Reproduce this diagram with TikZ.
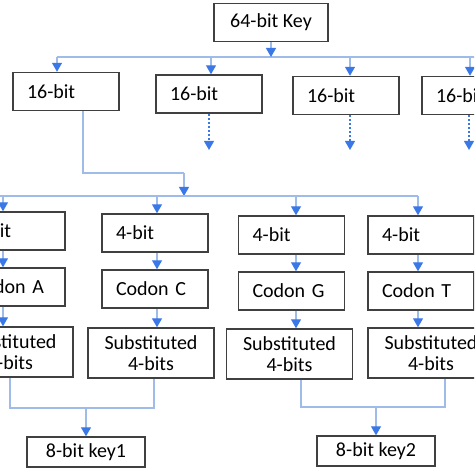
\documentclass[tikz,border=0pt]{standalone}
\usepackage{fontspec}
\setmainfont{Carlito}
\usetikzlibrary{arrows.meta}
\definecolor{linkblue}{RGB}{158,187,234}
\definecolor{tipblue}{RGB}{59,120,231}
\definecolor{boxgray}{RGB}{64,64,64}
\tikzset{
	box/.style={draw=boxgray, line width=0.7pt, inner ysep=0pt, minimum height=19pt, font=\fontsize{10}{10.5}\selectfont},
	leftbox/.style={box, text width=39pt, inner xsep=7pt, align=left},
	subbox/.style={box, text width=59pt, inner xsep=2pt, align=center, minimum height=25pt},
	link/.style={draw=linkblue, line width=0.6pt},
	tip/.style={link, -{Triangle[width=5pt,length=4.5pt,color=tipblue]}},
	dottip/.style={tip, draw=tipblue, dash pattern=on 1pt off 1pt},
}
\begin{document}
\begin{tikzpicture}[x=0.5pt,y=-0.5pt]
					\useasboundingbox (0,0) rectangle (474,474);
					\clip (0,0) rectangle (474,474);
					\node[box, minimum width=57pt] (key) at (271,22.5) {64-bit Key};
					\node[leftbox] (b1) at (66,91.5) {16-bit};
					\node[leftbox] (b2) at (209,94) {16-bit};
					\node[leftbox] (b3) at (346,95.5) {16-bit};
					\node[leftbox] (b4) at (475,95.5) {16-bit};
					\node[leftbox] (fA) at (12,231) {4-bit};
					\node[leftbox] (fC) at (155,233) {4-bit};
					\node[leftbox] (fG) at (291.5,235) {4-bit};
					\node[leftbox] (fT) at (421,235) {4-bit};
					\node[leftbox] (cA) at (12,287) {Codon A};
					\node[leftbox] (cC) at (155,289) {Codon C};
					\node[leftbox] (cG) at (291.5,291) {Codon G};
					\node[leftbox] (cT) at (421,291) {Codon T};
					\node[subbox] (sA) at (10,352) {Substituted\\4-bits};
					\node[subbox] (sC) at (151,353) {Substituted\\4-bits};
					\node[subbox] (sG) at (289.5,354) {Substituted\\4-bits};
					\node[subbox] (sT) at (431,353) {Substituted\\4-bits};
					\node[box, minimum width=59pt, minimum height=15pt] (key1) at (86,452) {8-bit key1};
					\node[box, minimum width=59pt, minimum height=15pt] (key2) at (376,451) {8-bit key2};
					% first split
					\coordinate (t1) at (57,57);
					\coordinate (t2) at (211,57);
					\coordinate (t3) at (350,57);
					\coordinate (t4) at (470,57);
					\coordinate (t5) at (480,57);
					\draw[link] (t1) -- (t5);
					\draw[tip] (key.south) -- (key.south |- t1);
					\foreach \t/\b in {t1/b1,t2/b2,t3/b3,t4/b4}
						\draw[tip] (\t) -- (\t |- \b.north);
					\coordinate (d2) at (209,150);
					\coordinate (d3) at (350,150);
					\coordinate (d4) at (469,150);
					\foreach \d/\b in {d2/b2,d3/b3,d4/b4}
						\draw[dottip] (\d |- \b.south) -- (\d);
					% second split
					\coordinate (j1) at (83,173);
					\coordinate (j2) at (184,173);
					\coordinate (j3) at (184,196);
					\draw[link] (j1 |- b1.south) -- (j1) -- (j2);
					\draw[tip] (j2) -- (j3);
					\coordinate (s0) at (-5,196);
					\coordinate (s1) at (3,196);
					\coordinate (s2) at (157,196);
					\coordinate (s3) at (296,196);
					\coordinate (s4) at (418,196);
					\draw[link] (s0) -- (s4);
					\foreach \s/\f/\c/\u in {s1/fA/cA/sA,s2/fC/cC/sC,s3/fG/cG/sG,s4/fT/cT/sT} {
						\draw[tip] (\s) -- (\s |- \f.north);
						\draw[tip] (\s |- \f.south) -- (\s |- \c.north);
						\draw[tip] (\s |- \c.south) -- (\s |- \u.north);
					}
					% joining
					\coordinate (m1) at (10,408);
					\coordinate (m2) at (154,408);
					\coordinate (k1) at (86,408);
					\draw[link] (m1 |- sA.south) -- (m1) -- (m2) -- (m2 |- sC.south);
					\draw[tip] (k1) -- (key1.north);
					\coordinate (m3) at (301,407);
					\coordinate (m4) at (445,407);
					\coordinate (k2) at (376,407);
					\draw[link] (m3 |- sG.south) -- (m3) -- (m4) -- (m4 |- sT.south);
					\draw[tip] (k2) -- (key2.north);
\end{tikzpicture}
\end{document}
